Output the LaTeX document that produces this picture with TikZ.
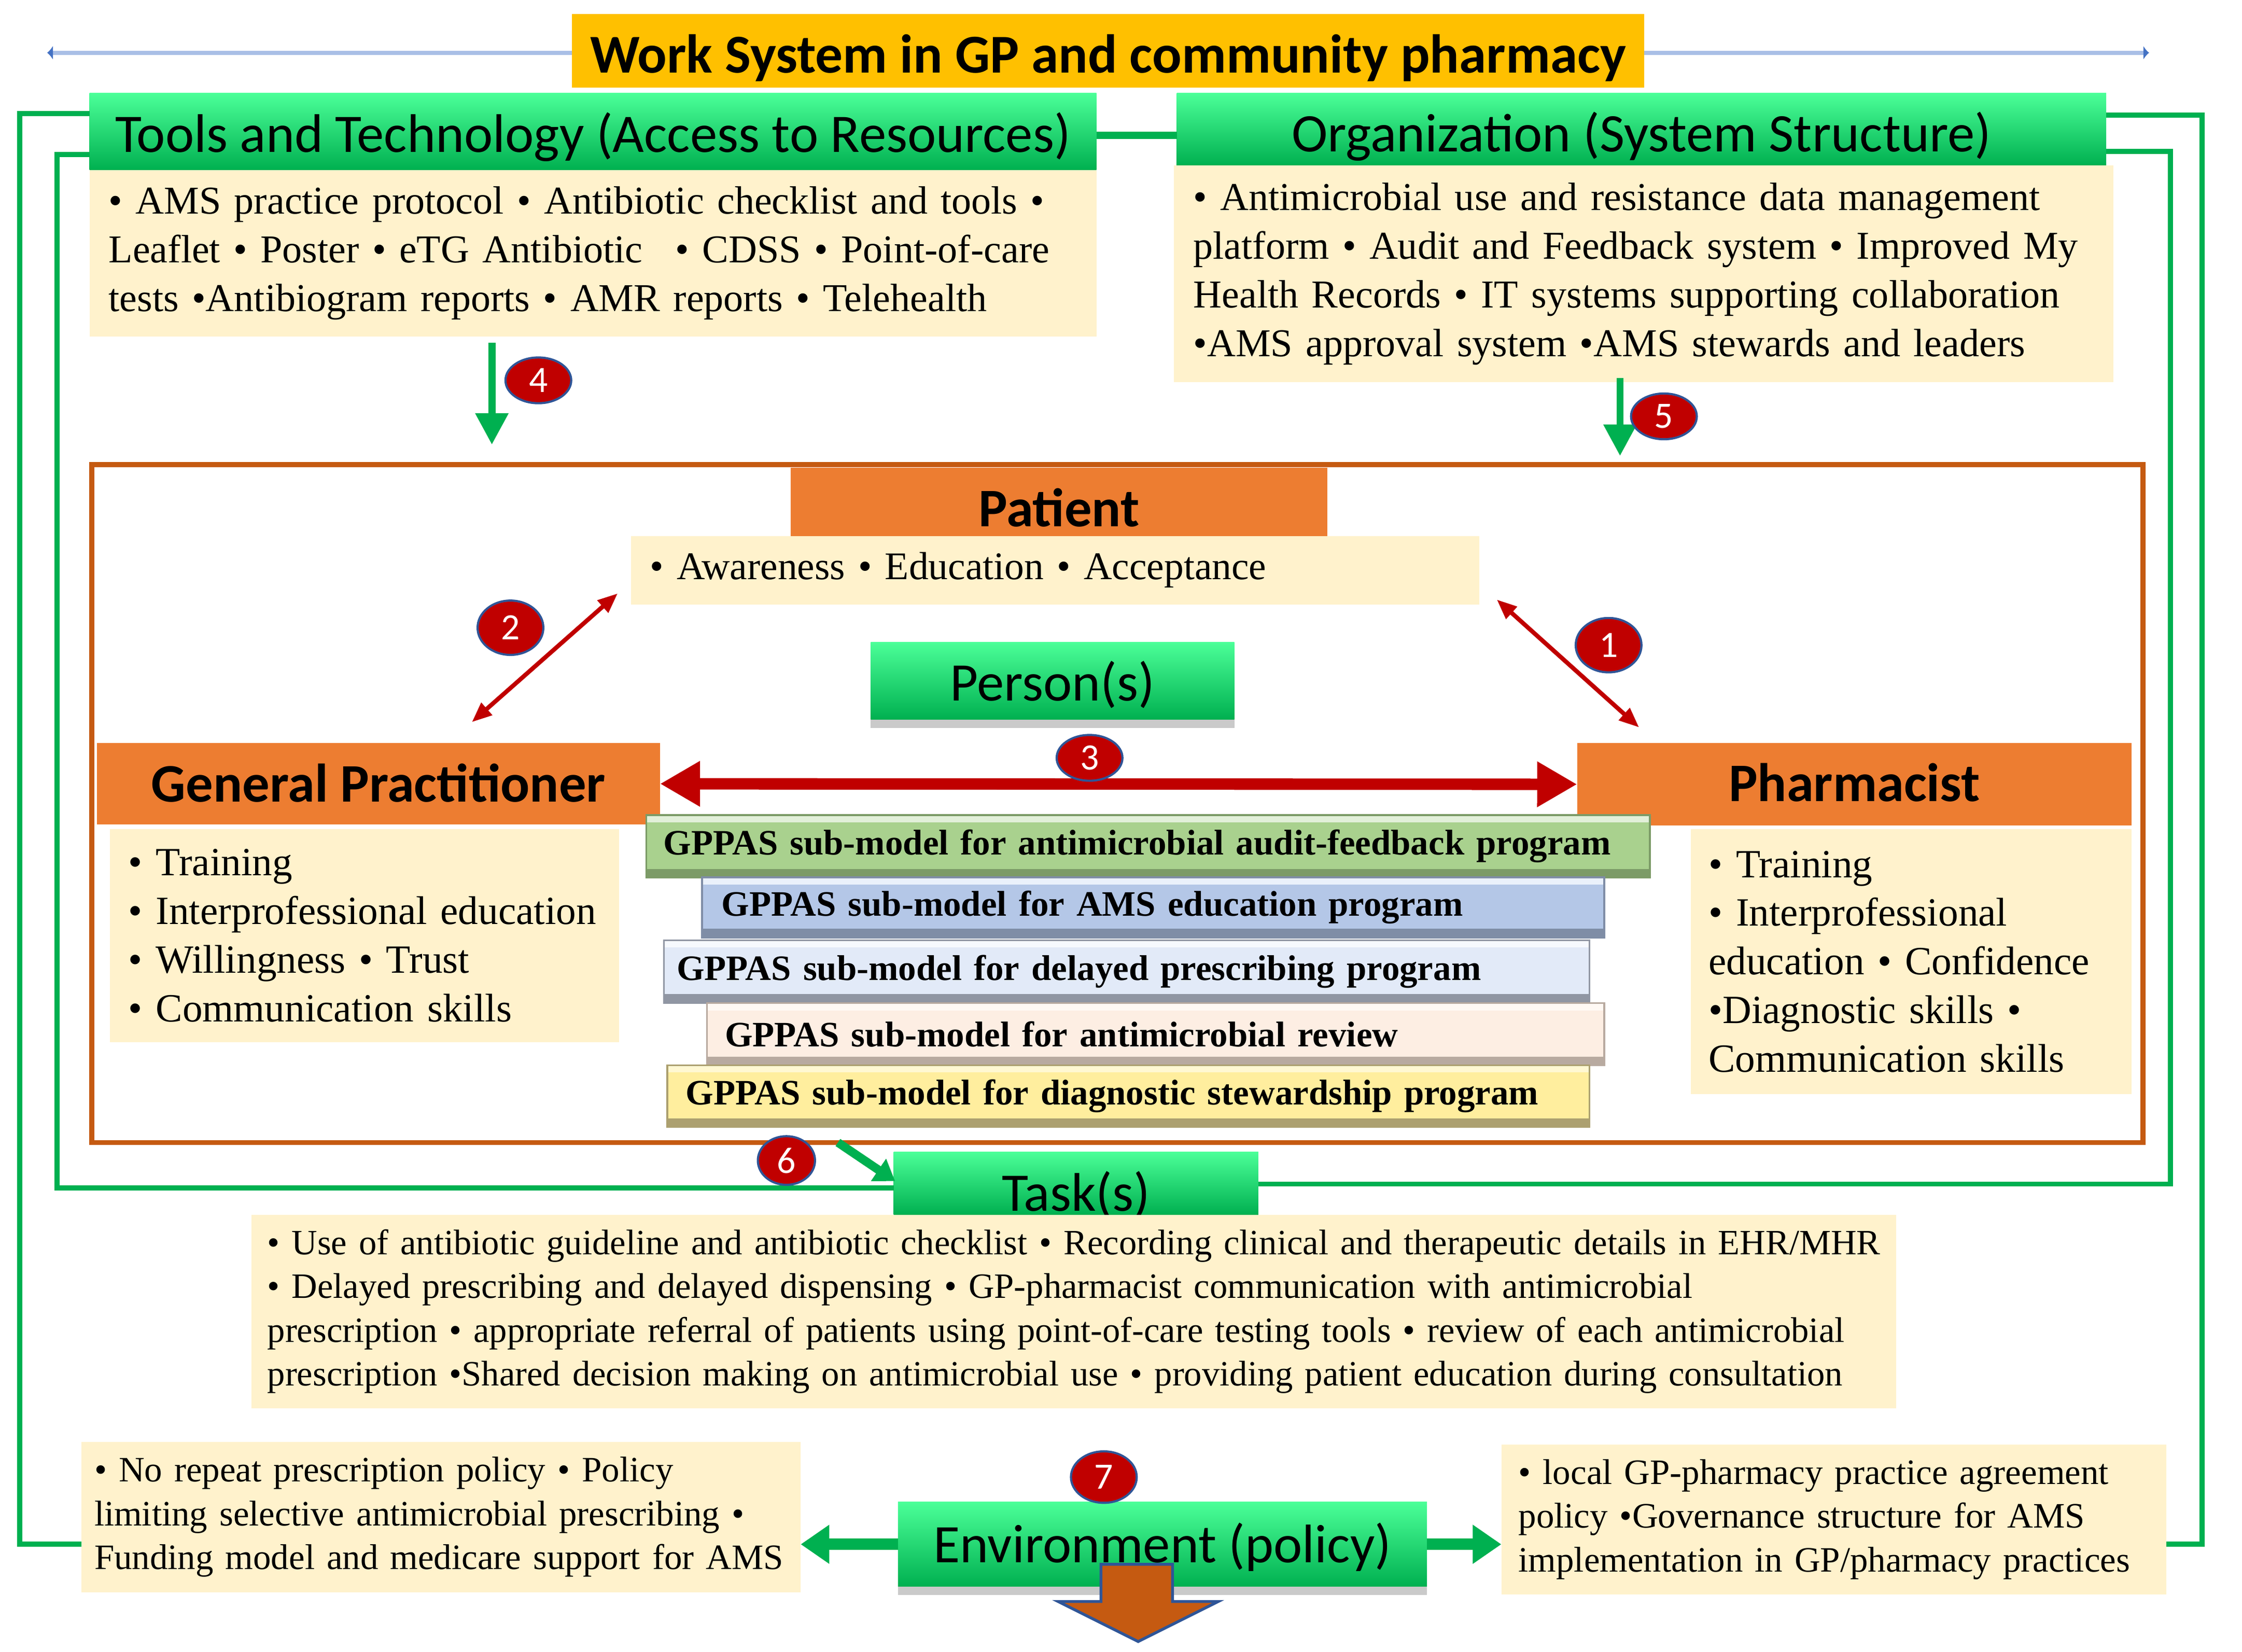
\documentclass[tikz,border=0pt]{standalone}
\usepackage{fontspec}
\setmainfont{Liberation Serif}
\newfontfamily\calfont{Carlito}
\usetikzlibrary{shapes.geometric,arrows.meta,shadows}
\definecolor{gtop}{HTML}{4BFF98}
\definecolor{gbot}{HTML}{00B050}
\definecolor{ggreen}{HTML}{00B050}
\definecolor{ohdrc}{HTML}{ED7D31}
\definecolor{cream}{HTML}{FFF2CC}
\definecolor{bred}{HTML}{C00000}
\definecolor{bblue}{HTML}{2F5597}
\definecolor{frameor}{HTML}{C55A11}
\definecolor{bannerc}{HTML}{FFC000}
\definecolor{lblue}{HTML}{A9BFE6}
\definecolor{dblue}{HTML}{4472C4}
\definecolor{sAf}{HTML}{A9D18E}\definecolor{sAt}{HTML}{E2F0D9}\definecolor{sAb}{HTML}{7C9B67}
\definecolor{sBf}{HTML}{B4C7E7}\definecolor{sBt}{HTML}{EAF1FB}\definecolor{sBb}{HTML}{7F8DA6}
\definecolor{sCf}{HTML}{E2EAF8}\definecolor{sCt}{HTML}{F6F9FE}\definecolor{sCb}{HTML}{9096A3}
\definecolor{sDf}{HTML}{FDEEE3}\definecolor{sDt}{HTML}{FFF9F4}\definecolor{sDb}{HTML}{B8AAA0}
\definecolor{sEf}{HTML}{FFEE9E}\definecolor{sEt}{HTML}{FFF8D2}\definecolor{sEb}{HTML}{ACA070}
\newcommand\ml[1]{\mbox{#1}}
\newcommand\hdrtext[2]{\raisebox{-#1pt}[0pt][0pt]{#2}}
\tikzset{
 box/.style={anchor=north west, inner sep=0pt, outer sep=0pt},
 ghdr/.style={box, top color=gtop, middle color=gbot!92!gtop, bottom color=gbot, font=\calfont\fontsize{38}{40}\selectfont},
 ohdr/.style={box, fill=ohdrc, font=\calfont\bfseries\fontsize{38}{40}\selectfont},
 body/.style={box, fill=cream, align=left, font=\fontsize{28}{34}\selectfont},
 midbody/.style={body, font=\fontsize{27.6}{34}\selectfont},
 smallbody/.style={body, font=\fontsize{25}{30.5}\selectfont},
 sub/.style n args={3}{box, fill=#1, draw=#3, line width=1.2pt, align=left,
   font=\bfseries\fontsize{25}{28}\selectfont,
   path picture={\fill[#2] (path picture bounding box.north west) rectangle ([yshift=-5pt]path picture bounding box.north east);
     \fill[#3] ([yshift=6pt]path picture bounding box.south west) rectangle (path picture bounding box.south east);}},
 badge/.style={ellipse, fill=bred, draw=bblue, line width=1.5pt, minimum width=46pt, minimum height=32pt, inner sep=0pt, text=white, font=\calfont\fontsize{26}{26}\selectfont},
 gline/.style={draw=ggreen, line width=3.5pt},
 garrow/.style={draw=ggreen, line width=5pt, -{Triangle[length=22pt,width=22pt]}},
 envarrow/.style={draw=ggreen, line width=8pt, -{Triangle[length=20pt,width=26pt]}},
 rthin/.style={draw=bred, line width=3pt, {Triangle[length=14pt,width=11pt]}-{Triangle[length=14pt,width=11pt]}},
 rthick/.style={draw=bred, line width=8pt, {Triangle[length=28pt,width=30pt]}-{Triangle[length=28pt,width=30pt]}},
 blueline/.style={draw=lblue, line width=3pt, {Latex[length=4pt,width=10pt,color=dblue]}-{Latex[length=4pt,width=10pt,color=dblue]}},
 shadowed/.style={drop shadow={shadow xshift=0pt, shadow yshift=-6pt, opacity=.35, fill=black!60}},
}
\begin{document}
\begin{tikzpicture}[x=1pt,y=-1pt]
\useasboundingbox (0,0) rectangle (1568,1155);
% named coordinates
\coordinate (bl1) at (33,36.9);
\coordinate (bl2) at (1503,36.9);
\coordinate (oL1) at (13.7,79.4);
\coordinate (oL2) at (13.7,1080);
\coordinate (iL1) at (40,108);
\coordinate (iL2) at (40,830.7);
\coordinate (oR1) at (1540,80.4);
\coordinate (oR2) at (1540,1080);
\coordinate (iR1) at (1518,106);
\coordinate (iR2) at (1518,828);
\coordinate (tc) at (795,94.6);
\coordinate (a4s) at (344,239.6);
\coordinate (a4e) at (344,311);
\coordinate (a5s) at (1133,264.3);
\coordinate (a5e) at (1133,318.9);
\coordinate (a1s) at (1046.8,419.3);
\coordinate (a1e) at (1146.3,508.7);
\coordinate (a2s) at (330,505);
\coordinate (a2e) at (432,415);
\coordinate (a6s) at (586,799);
\coordinate (a6e) at (626,826);

% title
\draw[blueline] (bl1) -- (bl2);
\node[box, fill=bannerc, minimum width=750pt, minimum height=51.4pt, font=\calfont\bfseries\fontsize{38.3}{40}\selectfont] (title) at (400,9.9) {\hdrtext{15.5}{Work System in GP and community pharmacy}};

% frame
\draw[frameor, line width=3.5pt] (64.2,325) rectangle (1498.7,799);

% tools
\node[ghdr, minimum width=704.2pt, minimum height=53.7pt] (tools) at (62.6,65.2) {\hdrtext{14.5}{Tools and Technology (Access to Resources)}};
\node[midbody, text width=677.4pt, inner xsep=13.4pt, minimum height=116.4pt] (toolsb) at (62.6,118.9)
 {\ml{• AMS practice protocol • Antibiotic checklist and tools •}\\
  \ml{Leaflet • Poster • eTG Antibiotic\ \, • CDSS • Point-of-care}\\
  \ml{tests •Antibiogram reports • AMR reports • Telehealth}};

% organization
\node[ghdr, minimum width=650pt, minimum height=50.6pt] (org) at (823,65.2) {\hdrtext{15.5}{Organization (System Structure)}};
\node[midbody, text width=629.8pt, inner xsep=13.6pt, minimum height=151.6pt] (orgb) at (821,115.8)
 {\ml{• Antimicrobial use and resistance data management}\\
  \ml{platform • Audit and Feedback system • Improved My}\\
  \ml{Health Records • IT systems supporting collaboration}\\
  \ml{•AMS approval system •AMS stewards and leaders}};

% patient
\node[ohdr, minimum width=375.1pt, minimum height=47.8pt] (pat) at (553.1,327) {\hdrtext{17.5}{Patient}};
\node[midbody, font=\fontsize{27.4}{34}\selectfont, text width=566.6pt, inner xsep=13.3pt, minimum height=47.9pt] (patb) at (441.4,374.8)
 {\ml{• Awareness • Education • Acceptance}};

% persons
\node[ghdr, shadowed, minimum width=254.3pt, minimum height=54.2pt] (pers) at (609,449) {\hdrtext{14}{Person(s)}};

% GP
\node[ohdr, minimum width=393.8pt, minimum height=56.7pt] (gp) at (67.8,519.8) {\hdrtext{12.5}{General Practitioner}};
\node[body, text width=330.1pt, inner xsep=13pt, minimum height=148.9pt] (gpb) at (76.9,579.8)
 {\ml{• Training}\\ \ml{• Interprofessional education}\\ \ml{• Willingness • Trust}\\ \ml{• Communication skills}};

% pharmacist
\node[ohdr, minimum width=387.7pt, minimum height=57.4pt] (ph) at (1103,519.8) {\hdrtext{12}{Pharmacist}};
\node[body, text width=283.2pt, inner xsep=12.5pt, minimum height=185pt] (phb) at (1182.5,580)
 {\ml{• Training}\\ \ml{• Interprofessional}\\ \ml{education • Confidence}\\ \ml{•Diagnostic skills •}\\ \ml{Communication skills}};

% sub-models
\node[sub={sAf}{sAt}{sAb}, text width=677.9pt, inner xsep=12pt, minimum height=43.6pt] (s1) at (452,570) {\ml{GPPAS sub-model for antimicrobial audit-feedback program}};
\node[sub={sBf}{sBt}{sBb}, text width=603.6pt, inner xsep=13.7pt, minimum height=42pt] (s2) at (491,613.6) {\ml{GPPAS sub-model for AMS education program}};
\node[sub={sCf}{sCt}{sCb}, text width=629.3pt, inner xsep=9pt, minimum height=43.7pt] (s3) at (464.3,657.6) {\ml{GPPAS sub-model for delayed prescribing program}};
\node[sub={sDf}{sDt}{sDb}, text width=602.4pt, inner xsep=12.6pt, minimum height=43.4pt] (s4) at (494.4,701.6) {\ml{GPPAS sub-model for antimicrobial review}};
\node[sub={sEf}{sEt}{sEb}, text width=618.9pt, inner xsep=13pt, minimum height=43pt] (s5) at (466.7,745) {\ml{GPPAS sub-model for diagnostic stewardship program}};

% task
\node[ghdr, minimum width=255pt, minimum height=44pt] (task) at (625,805.5) {\hdrtext{19.5}{Task(s)}};
\node[smallbody, font=\fontsize{24.9}{30.5}\selectfont, text width=1128pt, inner xsep=11pt, minimum height=135.3pt] (taskb) at (176,849.5)
 {\ml{• Use of antibiotic guideline and antibiotic checklist • Recording clinical and therapeutic details in EHR/MHR}\\
  \ml{• Delayed prescribing and delayed dispensing • GP-pharmacist communication with antimicrobial}\\
  \ml{prescription • appropriate referral of patients using point-of-care testing tools • review of each antimicrobial}\\
  \ml{prescription •Shared decision making on antimicrobial use • providing patient education during consultation}};

% environment
\node[ghdr, shadowed, minimum width=370pt, minimum height=59.2pt] (env) at (628,1050.4) {\hdrtext{12.7}{Environment (policy)}};
\node[smallbody, text width=485pt, inner xsep=9pt, minimum height=105.2pt] (envL) at (57,1008.3)
 {\ml{• No repeat prescription policy • Policy}\\
  \ml{limiting selective antimicrobial prescribing •}\\
  \ml{Funding model and medicare support for AMS}};
\node[smallbody, text width=441pt, inner xsep=12pt, minimum height=104.7pt] (envR) at (1050,1010.3)
 {\ml{• local GP-pharmacy practice agreement}\\
  \ml{policy •Governance structure for AMS}\\
  \ml{implementation in GP/pharmacy practices}};

% outgoing orange arrow
\draw[fill=frameor, draw=bblue, line width=2pt] (770,1094) -- (820,1094) -- (820,1120) -- (852,1120) -- (796,1148) -- (740,1120) -- (770,1120) -- cycle;

% green loop lines
\draw[gline, line width=5pt] (tc -| tools.east) -- (tc -| org.west);
\draw[gline] (oL1 -| tools.west) -- (oL1) -- (oL2) -- (oL2 -| envL.west);
\draw[gline] (iL1 -| tools.west) -- (iL1) -- (iL2) -- (iL2 -| task.west);
\draw[gline] (oR1 -| org.east) -- (oR1) -- (oR2) -- (oR2 -| envR.east);
\draw[gline] (iR1 -| org.east) -- (iR1) -- (iR2) -- (iR2 -| task.east);

% arrows
\draw[garrow] (a4s) -- (a4e);
\draw[garrow] (a5s) -- (a5e);
\draw[rthin] (a1s) -- (a1e);
\draw[rthin] (a2s) -- (a2e);
\draw[rthick] (gp.east) -- (ph.west);
\draw[draw=ggreen, line width=6pt, -{Triangle[length=14pt,width=18pt]}] (a6s) -- (a6e);
\draw[envarrow] (env.west) -- (env.west -| envL.east);
\draw[envarrow] (env.east) -- (env.east -| envR.west);

% badges
\node[badge] (b4) at (376.5,266) {4};
\node[badge] (b5) at (1163.7,291.2) {5};
\node[badge, minimum height=38pt] (b1) at (1125,451.2) {1};
\node[badge, minimum height=38pt] (b2) at (357,439) {2};
\node[badge] (b3) at (762,530) {3};
\node[badge, minimum width=40pt, minimum height=34pt] (b6) at (550,811.6) {6};
\node[badge, minimum height=36pt] (b7) at (772,1033) {7};
\end{tikzpicture}
\end{document}
